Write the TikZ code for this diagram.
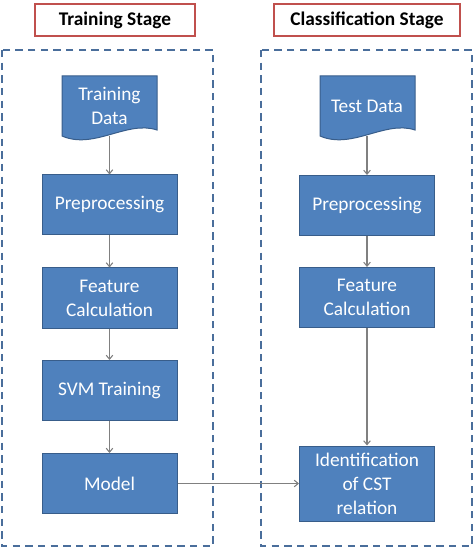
\documentclass[tikz,border=0pt]{standalone}
\usepackage{fontspec}
\setmainfont{Carlito}
\usetikzlibrary{arrows.meta}
\definecolor{boxblue}{HTML}{4F81BD}
\definecolor{boxedge}{HTML}{385D8A}
\definecolor{stagered}{HTML}{C0504D}
\definecolor{dashblue}{HTML}{4A6E9B}
\definecolor{arrowgray}{HTML}{808080}

\begin{document}
\begin{tikzpicture}[x=0.75pt, y=-0.75pt,
    >={Straight Barb[length=3pt, width=5pt]},
    procbox/.style={font=\fontsize{14.5}{18}\selectfont, draw=boxedge,
        fill=boxblue, line width=0.75pt, text=white, align=center,
        inner sep=0pt, minimum width=101.25pt, minimum height=45pt},
    docbox/.style={font=\fontsize{14.5}{18}\selectfont, text=white,
        align=center, inner sep=0pt, minimum width=70.5pt, minimum height=45pt},
    docedge/.style={draw=boxedge, fill=boxblue, line width=0.75pt},
    stagebox/.style={font=\fontsize{14.5}{18}\selectfont\bfseries,
        draw=stagered, fill=white, line width=1.1pt, inner sep=0pt,
        minimum height=24pt},
    stageframe/.style={draw=dashblue, line width=1.7pt,
        dash pattern=on 5.5pt off 4pt},
    flow/.style={->, draw=arrowgray, line width=0.8pt}]
    \useasboundingbox (0,0) rectangle (474,548);

    % stage titles
    \node [stagebox, minimum width=120pt]   (ttrain) at (115,20) {Training Stage};
    \node [stagebox, minimum width=139.5pt] (tclass) at (367,20) {Classification Stage};

    % dashed frames
    \draw [stageframe] (2,50) rectangle (213,546);
    \draw [stageframe] (261,50) rectangle (472,546);

    % training stage
    \draw [docedge] (62,76) -- (157,76) -- (157,130)
        .. controls (127,120) and (94,150) .. (62,136) -- cycle;
    \node [docbox]  (tdata) at (109.5,106) {Training\\Data};
    \node [procbox] (lpre)  at (109.5,205) {Preprocessing};
    \node [procbox] (lfeat) at (109.5,298) {Feature\\Calculation};
    \node [procbox] (lsvm)  at (109.5,390.5) {SVM Training};
    \node [procbox] (model) at (109.5,483.5) {Model};

    % classification stage
    \draw [docedge] (320,76) -- (415,76) -- (415,130)
        .. controls (385,120) and (352,150) .. (320,136) -- cycle;
    \node [docbox]  (testd) at (367,106) {Test Data};
    \node [procbox] (rpre)  at (367,205.5) {Preprocessing};
    \node [procbox] (rfeat) at (367,297.5) {Feature\\Calculation};
    \node [procbox, minimum height=56.25pt] (ident) at (367,483.5)
        {Identification\\of CST\\relation};

    %% arrows
    \draw [flow] (tdata.south) -- (lpre.north);
    \draw [flow] (lpre.south)  -- (lfeat.north);
    \draw [flow] (lfeat.south) -- (lsvm.north);
    \draw [flow] (lsvm.south)  -- (model.north);
    \draw [flow] (testd.south) -- (rpre.north);
    \draw [flow] (rpre.south)  -- (rfeat.north);
    \draw [flow] (rfeat.south) -- (ident.north);
    \draw [flow] (model.east)  -- (ident.west);
\end{tikzpicture}
\end{document}
